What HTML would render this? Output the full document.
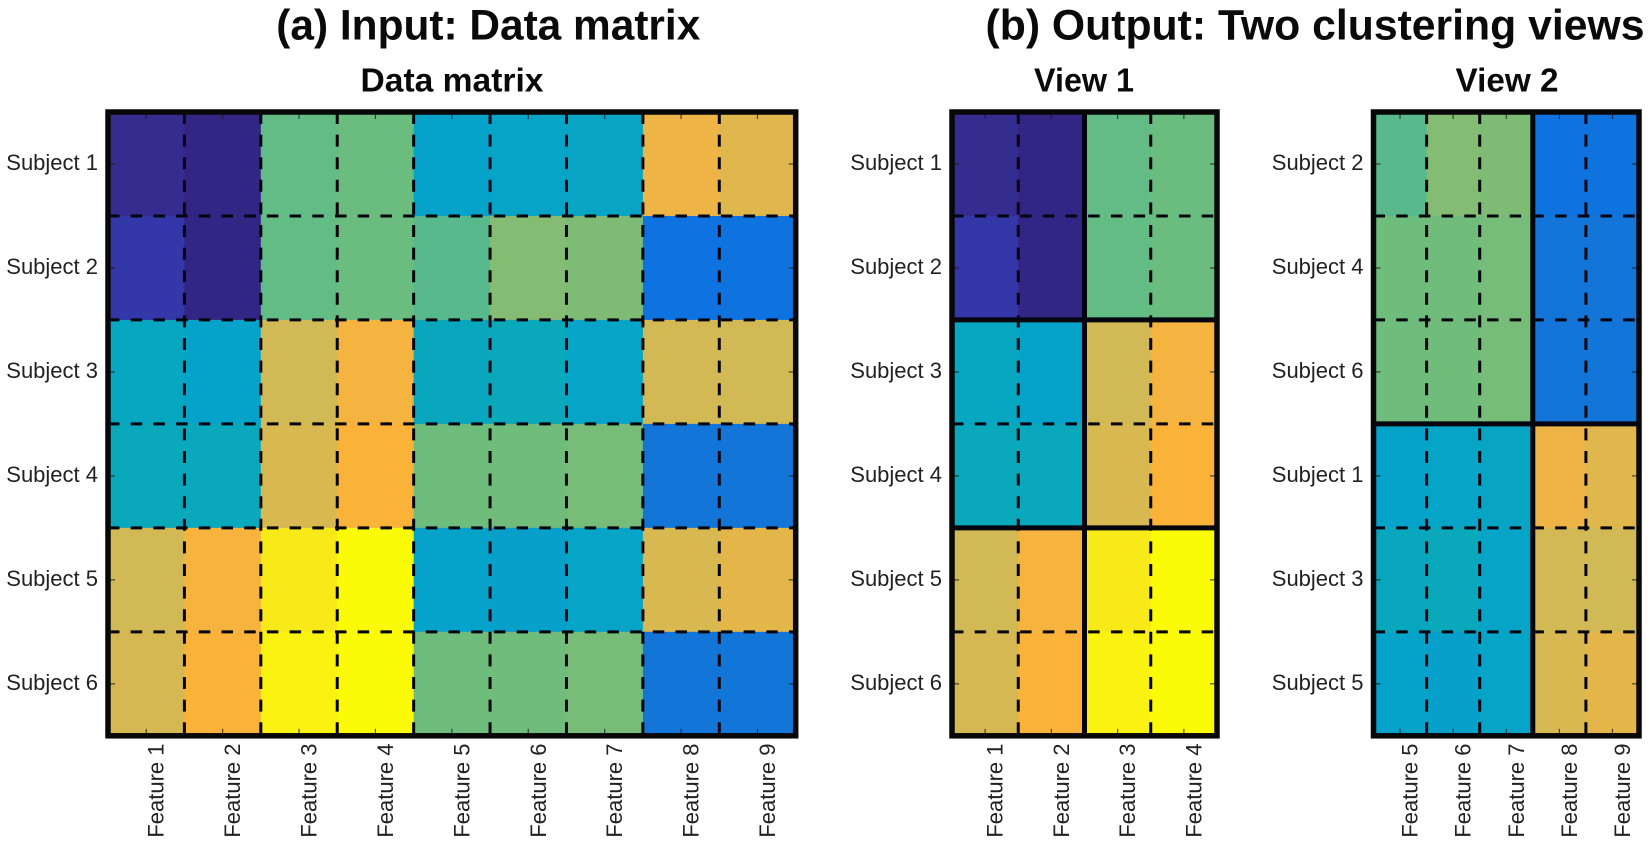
<!DOCTYPE html>
<html lang="en">
<head>
<meta charset="utf-8">
<title>Input data matrix and two clustering views</title>
<style>
  html, body { margin: 0; padding: 0; background: #fff; }
  svg { display: block; }
  text { font-family: "Liberation Sans", sans-serif; }
  .main-title { font-size: 42.4px; font-weight: 700; fill: #0a0a0a; }
  .sub-title { font-size: 33.6px; font-weight: 700; fill: #0a0a0a; }
  .tick-label { font-size: 22px; fill: #222; }
</style>
</head>
<body>
<svg id="figure" xmlns="http://www.w3.org/2000/svg" width="1650" height="844" viewBox="0 0 1650 844">
  <rect x="0" y="0" width="1650" height="844" fill="#fff"/>
  <text class="main-title" x="276.3" y="39.5" textLength="424" lengthAdjust="spacingAndGlyphs">(a) Input: Data matrix</text>
  <text class="main-title" x="985.5" y="39.5" textLength="659" lengthAdjust="spacingAndGlyphs">(b) Output: Two clustering views</text>
  <text class="sub-title" x="360.5" y="91.5" textLength="183" lengthAdjust="spacingAndGlyphs">Data matrix</text>
  <text class="sub-title" x="1034" y="91.5" textLength="100" lengthAdjust="spacingAndGlyphs">View 1</text>
  <text class="sub-title" x="1455.5" y="91.5" textLength="103" lengthAdjust="spacingAndGlyphs">View 2</text>
</svg>
<script>
// ---- data ----
const subjectLabels = ["Subject 1", "Subject 2", "Subject 3", "Subject 4", "Subject 5", "Subject 6"];
const featureLabels = ["Feature 1", "Feature 2", "Feature 3", "Feature 4", "Feature 5", "Feature 6", "Feature 7", "Feature 8", "Feature 9"];

const subject1 = [0.03, 0.00, 0.595, 0.63, 0.40, 0.41, 0.42, 0.84, 0.81];
const subject2 = [0.07, 0.00, 0.60, 0.63, 0.56, 0.68, 0.67, 0.20, 0.205];
const subject3 = [0.43, 0.40, 0.78, 0.86, 0.44, 0.45, 0.41, 0.785, 0.78];
const subject4 = [0.45, 0.445, 0.795, 0.88, 0.645, 0.65, 0.66, 0.255, 0.25];
const subject5 = [0.78, 0.865, 0.94, 1.00, 0.40, 0.39, 0.41, 0.795, 0.82];
const subject6 = [0.79, 0.88, 0.97, 1.00, 0.64, 0.65, 0.66, 0.25, 0.245];
const dataMatrix = [subject1, subject2, subject3, subject4, subject5, subject6];

// Which rows / columns of the matrix each panel shows (0-based), and cluster breaks.
const fullRows = [0, 1, 2, 3, 4, 5];
const fullCols = [0, 1, 2, 3, 4, 5, 6, 7, 8];
const view1Rows = [0, 1, 2, 3, 4, 5];
const view1Cols = [0, 1, 2, 3];
const view1RowBreaks = [2, 4];
const view1ColBreaks = [2];
const view2Rows = [1, 3, 5, 0, 2, 4];
const view2Cols = [4, 5, 6, 7, 8];
const view2RowBreaks = [3];
const view2ColBreaks = [3];

// Colormap: value stops and the colours at those stops.
const colorStops = [0, 0.03, 0.07, 0.20, 0.27, 0.40, 0.46, 0.56, 0.60, 0.65, 0.68, 0.78, 0.84, 0.88, 0.94, 1];
const colorRamp = ["#332584", "#352c90", "#3437a8", "#0e72e0", "#1476d4", "#05a3c9", "#0aa9b8", "#58ba8c", "#64bc85", "#70bd7b", "#85bc74", "#d1b955", "#eeb445", "#fbb239", "#f8e918", "#fbfb08"];

// ---- drawing helpers ----
const SVG_NS = "http://www.w3.org/2000/svg";
const figure = document.getElementById("figure");

function hexToRgb(h) {
  return [parseInt(h.slice(1, 3), 16), parseInt(h.slice(3, 5), 16), parseInt(h.slice(5, 7), 16)];
}
function colorFor(v) {
  const t = Math.max(0, Math.min(1, v));
  let i = 0;
  while (i < colorStops.length - 2 && t > colorStops[i + 1]) i++;
  const f = (t - colorStops[i]) / (colorStops[i + 1] - colorStops[i]);
  const a = hexToRgb(colorRamp[i]);
  const b = hexToRgb(colorRamp[i + 1]);
  return "rgb(" + a.map((c, k) => Math.round(c + (b[k] - c) * f)).join(",") + ")";
}
function make(tag, attrs, parent) {
  const el = document.createElementNS(SVG_NS, tag);
  for (const k in attrs) el.setAttribute(k, attrs[k]);
  parent.appendChild(el);
  return el;
}

function drawPanel(name, box, rows, cols, rowBreaks, colBreaks) {
  const g = make("g", {}, figure);
  
  

  const xScale = c => box.left + (box.right - box.left) * c / cols.length;
  const yScale = r => box.top + (box.bottom - box.top) * r / rows.length;

  // heatmap cells
  rows.forEach((rowIndex, r) => {
    cols.forEach((colIndex, c) => {
      const cell = make("rect", {
        x: xScale(c), y: yScale(r),
        width: xScale(c + 1) - xScale(c) + 0.5,
        height: yScale(r + 1) - yScale(r) + 0.5,
        fill: colorFor(dataMatrix[rowIndex][colIndex])
      }, g);
      
      
    });
  });

  // tick marks at cell centres
  const tickStyle = { stroke: "#1a1a1a", "stroke-width": 1.2, "stroke-opacity": 0.75 };
  cols.forEach((_, c) => {
    const x = xScale(c + 0.5);
    [[box.top, box.top + 7], [box.bottom - 7, box.bottom]].forEach(p => {
      const t = make("line", Object.assign({ x1: x, x2: x, y1: p[0], y2: p[1] }, tickStyle), g);
      
      
    });
  });
  rows.forEach((_, r) => {
    const y = yScale(r + 0.5);
    [[box.left, box.left + 7], [box.right - 7, box.right]].forEach(p => {
      const t = make("line", Object.assign({ x1: p[0], x2: p[1], y1: y, y2: y }, tickStyle), g);
      
      
    });
  });

  // dashed separators and thick cluster boundaries
  for (let c = 1; c < cols.length; c++) {
    const thick = colBreaks.includes(c);
    const line = make("line", {
      x1: xScale(c), x2: xScale(c), y1: box.top, y2: box.bottom,
      stroke: "#050510", "stroke-width": thick ? 5 : 3,
      "stroke-dasharray": thick ? "none" : "12 10.6"
    }, g);
    
    
  }
  for (let r = 1; r < rows.length; r++) {
    const thick = rowBreaks.includes(r);
    const line = make("line", {
      x1: box.left, x2: box.right, y1: yScale(r), y2: yScale(r),
      stroke: "#050510", "stroke-width": thick ? 5 : 3,
      "stroke-dasharray": thick ? "none" : "11.5 11.2"
    }, g);
    
    
  }

  // frame
  const frame = make("rect", {
    x: box.left, y: box.top,
    width: box.right - box.left, height: box.bottom - box.top,
    fill: "none", stroke: "#080808", "stroke-width": 5.5
  }, g);
  
  

  // y labels
  rows.forEach((rowIndex, r) => {
    const label = make("text", {
      class: "tick-label",
      x: box.left - 10, y: yScale(r + 0.5) + 6,
      "text-anchor": "end"
    }, g);
    label.textContent = subjectLabels[rowIndex];
    
    
  });

  // x labels (rotated)
  cols.forEach((colIndex, c) => {
    const x = xScale(c + 0.5) + 17.5;
    const label = make("text", {
      class: "tick-label",
      x: x, y: 743.5,
      "text-anchor": "end",
      transform: "rotate(-90 " + x + " 743.5)"
    }, g);
    label.textContent = featureLabels[colIndex];
    
    
  });
}

drawPanel("data-matrix-panel", { left: 108, right: 795.7, top: 112, bottom: 735.8 }, fullRows, fullCols, [], []);
drawPanel("view-1-panel", { left: 952, right: 1217, top: 112, bottom: 735.8 }, view1Rows, view1Cols, view1RowBreaks, view1ColBreaks);
drawPanel("view-2-panel", { left: 1373.5, right: 1639, top: 112, bottom: 735.8 }, view2Rows, view2Cols, view2RowBreaks, view2ColBreaks);
</script>
</body>
</html>
